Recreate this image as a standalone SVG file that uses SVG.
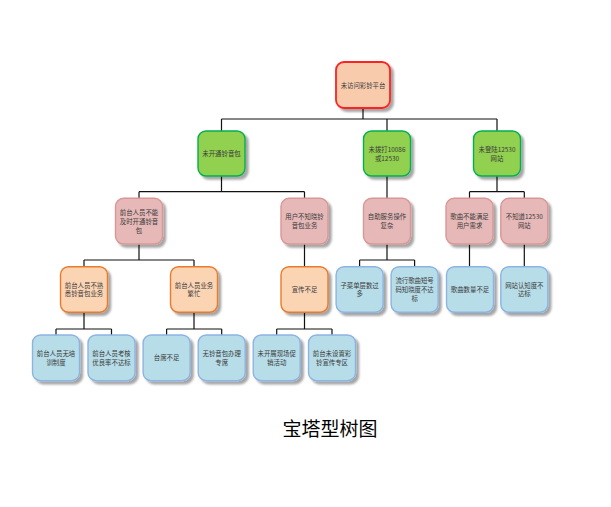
<svg xmlns="http://www.w3.org/2000/svg" width="611" height="507" viewBox="0 0 611 507">
<defs>
<filter id="sh" x="-20%" y="-20%" width="150%" height="150%">
<feDropShadow dx="3" dy="3" stdDeviation="1.2" flood-color="#000" flood-opacity="0.35"/>
</filter>
<style>
.b{filter:url(#sh);stroke-width:1.4}
.r{fill:#F8CBAD;stroke:#FF2020;stroke-width:1.8}
.g{fill:#92D050;stroke:#00B050}
.p{fill:#E6B9B8;stroke:#D99694}
.o{fill:#FBD4B4;stroke:#E97A2C}
.c{fill:#B7DDE8;stroke:#8DB3E2}
text{font-family:"Noto Sans CJK SC","Noto Sans",sans-serif;font-size:6.4px;fill:#3a3a3a;text-anchor:middle;dominant-baseline:central}
.t{font-size:19px;fill:#000}
#edges path{fill:none;stroke:#111;stroke-width:1.2}
</style>
</defs>
<rect width="611" height="507" fill="#fff"/>
<g id="edges">
<path d="M363 108V119M221.5 119H497M221.5 119V131M387 119V131M497 119V131"/>
<path d="M221.5 176V191.7M139 191.7H304.5M139 191.7V198.3M304.5 191.7V198.3"/>
<path d="M387 176V198.3"/>
<path d="M497 176V191.7M469.5 191.7H524.3M469.5 191.7V198.3M524.3 191.7V198.3"/>
<path d="M139 244V260M84 260H194M84 260V266.7M194 260V266.7"/>
<path d="M304.5 244V266.7"/>
<path d="M387 244V260M359.6 260H414.6M359.6 260V266.7M414.6 260V266.7"/>
<path d="M469.5 244V266.7M524.3 244V266.7"/>
<path d="M84 312.3V329M56 329H111.5M56 329V335M111.5 329V335"/>
<path d="M194 312.3V329M166.6 329H221.7M166.6 329V335M221.7 329V335"/>
<path d="M304.5 312.3V329M276.7 329H332M276.7 329V335M332 329V335"/>
</g>
<g id="n0"><rect class="b r" x="336" y="62" width="54" height="46" rx="8"/><text x="363" y="85">未访问彩铃平台</text></g>
<g id="n1"><rect class="b g" x="198" y="131" width="47" height="45" rx="8"/><text x="221.5" y="153.5">未开通铃音包</text></g>
<g id="n2"><rect class="b g" x="363.5" y="131" width="47" height="45" rx="8"/><text x="387" y="149.2">未拨打10086</text><text x="387" y="158">或12530</text></g>
<g id="n3"><rect class="b g" x="473.5" y="131" width="47" height="45" rx="8"/><text x="497" y="149.2">未登陆12530</text><text x="497" y="158">网站</text></g>
<g id="n4"><rect class="b p" x="115.5" y="198.3" width="47" height="45.7" rx="8"/><text x="139" y="212.4">前台人员不能</text><text x="139" y="221.2">及时开通铃音</text><text x="139" y="230">包</text></g>
<g id="n5"><rect class="b p" x="281" y="198.3" width="47" height="45.7" rx="8"/><text x="304.5" y="216.8">用户不知晓铃</text><text x="304.5" y="225.6">音包业务</text></g>
<g id="n6"><rect class="b p" x="363.5" y="198.3" width="47" height="45.7" rx="8"/><text x="387" y="216.8">自助服务操作</text><text x="387" y="225.6">复杂</text></g>
<g id="n7"><rect class="b p" x="446" y="198.3" width="47" height="45.7" rx="8"/><text x="469.5" y="216.8">歌曲不能满足</text><text x="469.5" y="225.6">用户需求</text></g>
<g id="n8"><rect class="b p" x="500.8" y="198.3" width="47" height="45.7" rx="8"/><text x="524.3" y="216.8">不知道12530</text><text x="524.3" y="225.6">网站</text></g>
<g id="n9"><rect class="b o" x="60.5" y="266.7" width="47" height="45.6" rx="8"/><text x="84" y="285.1">前台人员不熟</text><text x="84" y="293.9">悉铃音包业务</text></g>
<g id="n10"><rect class="b o" x="170.5" y="266.7" width="47" height="45.6" rx="8"/><text x="194" y="285.1">前台人员业务</text><text x="194" y="293.9">繁忙</text></g>
<g id="n11"><rect class="b o" x="281" y="266.7" width="47" height="45.6" rx="8"/><text x="304.5" y="289.5">宣传不足</text></g>
<g id="n12"><rect class="b c" x="336.1" y="266.7" width="47" height="45.6" rx="8"/><text x="359.6" y="285.1">子菜单层数过</text><text x="359.6" y="293.9">多</text></g>
<g id="n13"><rect class="b c" x="391.1" y="266.7" width="47" height="45.6" rx="8"/><text x="414.6" y="280.7">流行歌曲短号</text><text x="414.6" y="289.5">码知晓度不达</text><text x="414.6" y="298.3">标</text></g>
<g id="n14"><rect class="b c" x="446.5" y="266.7" width="47" height="45.6" rx="8"/><text x="470" y="289.5">歌曲数量不足</text></g>
<g id="n15"><rect class="b c" x="500.8" y="266.7" width="47" height="45.6" rx="8"/><text x="524.3" y="285.1">网站认知度不</text><text x="524.3" y="293.9">达标</text></g>
<g id="n16"><rect class="b c" x="32.5" y="335" width="47" height="45.7" rx="8"/><text x="56" y="353.5">前台人员无培</text><text x="56" y="362.3">训制度</text></g>
<g id="n17"><rect class="b c" x="88" y="335" width="47" height="45.7" rx="8"/><text x="111.5" y="353.5">前台人员考核</text><text x="111.5" y="362.3">优良率不达标</text></g>
<g id="n18"><rect class="b c" x="143.1" y="335" width="47" height="45.7" rx="8"/><text x="166.6" y="357.9">台席不足</text></g>
<g id="n19"><rect class="b c" x="198.2" y="335" width="47" height="45.7" rx="8"/><text x="221.7" y="353.5">无铃音包办理</text><text x="221.7" y="362.3">专席</text></g>
<g id="n20"><rect class="b c" x="253.2" y="335" width="47" height="45.7" rx="8"/><text x="276.7" y="353.5">未开展现场促</text><text x="276.7" y="362.3">销活动</text></g>
<g id="n21"><rect class="b c" x="308.5" y="335" width="47" height="45.7" rx="8"/><text x="332" y="353.5">前台未设置彩</text><text x="332" y="362.3">铃宣传专区</text></g>
<text class="t" x="330" y="427">宝塔型树图</text>
</svg>
